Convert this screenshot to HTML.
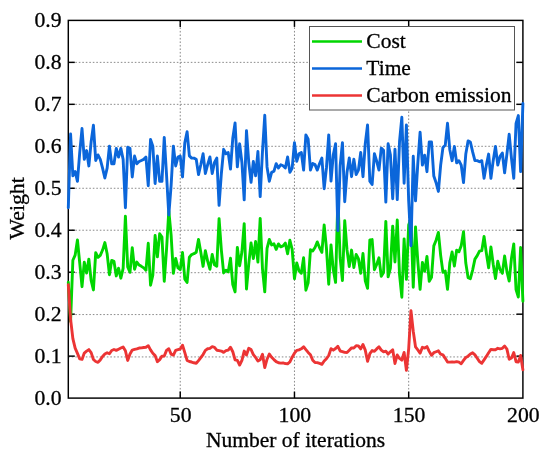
<!DOCTYPE html>
<html><head><meta charset="utf-8"><style>
html,body{margin:0;padding:0;background:#fff;}
body{width:550px;height:456px;overflow:hidden;}
svg{display:block;}
</style></head><body>
<svg width="550" height="456" viewBox="0 0 550 456">
<rect width="550" height="456" fill="#fff"/>
<g stroke="#8a8a8a" stroke-width="1" stroke-dasharray="1.6 1.9" fill="none"><line x1="68.30" y1="356.93" x2="522.90" y2="356.93"/><line x1="68.30" y1="314.57" x2="522.90" y2="314.57"/><line x1="68.30" y1="272.70" x2="522.90" y2="272.70"/><line x1="68.30" y1="230.23" x2="522.90" y2="230.23"/><line x1="68.30" y1="188.27" x2="522.90" y2="188.27"/><line x1="68.30" y1="146.30" x2="522.90" y2="146.30"/><line x1="68.30" y1="104.33" x2="522.90" y2="104.33"/><line x1="68.30" y1="62.37" x2="522.90" y2="62.37"/><line x1="180.24" y1="20.40" x2="180.24" y2="398.10"/><line x1="294.46" y1="20.40" x2="294.46" y2="398.10"/><line x1="408.68" y1="20.40" x2="408.68" y2="398.10"/></g>
<g stroke="#000" stroke-width="1.45" fill="none"><line x1="68.30" y1="356.13" x2="74.80" y2="356.13"/><line x1="522.90" y1="356.13" x2="516.40" y2="356.13"/><line x1="68.30" y1="314.17" x2="74.80" y2="314.17"/><line x1="522.90" y1="314.17" x2="516.40" y2="314.17"/><line x1="68.30" y1="272.20" x2="74.80" y2="272.20"/><line x1="522.90" y1="272.20" x2="516.40" y2="272.20"/><line x1="68.30" y1="230.23" x2="74.80" y2="230.23"/><line x1="522.90" y1="230.23" x2="516.40" y2="230.23"/><line x1="68.30" y1="188.27" x2="74.80" y2="188.27"/><line x1="522.90" y1="188.27" x2="516.40" y2="188.27"/><line x1="68.30" y1="146.30" x2="74.80" y2="146.30"/><line x1="522.90" y1="146.30" x2="516.40" y2="146.30"/><line x1="68.30" y1="104.33" x2="74.80" y2="104.33"/><line x1="522.90" y1="104.33" x2="516.40" y2="104.33"/><line x1="68.30" y1="62.37" x2="74.80" y2="62.37"/><line x1="522.90" y1="62.37" x2="516.40" y2="62.37"/><line x1="180.24" y1="398.10" x2="180.24" y2="391.60"/><line x1="180.24" y1="20.40" x2="180.24" y2="26.90"/><line x1="294.46" y1="398.10" x2="294.46" y2="391.60"/><line x1="294.46" y1="20.40" x2="294.46" y2="26.90"/><line x1="408.68" y1="398.10" x2="408.68" y2="391.60"/><line x1="408.68" y1="20.40" x2="408.68" y2="26.90"/>
<rect x="68.30" y="20.40" width="454.60" height="377.70"/></g>
<g fill="none" stroke-width="2.9" stroke-linejoin="round" stroke-linecap="round">
<path d="M68.30,282.29 L70.58,321.44 L72.87,260.22 L75.15,255.13 L77.44,239.95 L79.72,262.98 L82.01,286.68 L84.29,262.19 L86.58,272.97 L88.86,259.11 L91.14,280.29 L93.43,289.91 L95.71,252.70 L98.00,257.34 L100.28,255.40 L102.57,250.05 L104.85,242.59 L107.14,253.74 L109.42,274.71 L111.70,260.43 L113.99,261.42 L116.27,275.92 L118.56,268.26 L120.84,278.21 L123.13,268.36 L125.41,216.18 L127.69,266.93 L129.98,272.30 L132.26,247.65 L134.55,269.19 L136.83,262.04 L139.12,265.03 L141.40,266.34 L143.69,267.84 L145.97,270.29 L148.25,243.25 L150.54,285.19 L152.82,275.17 L155.11,235.49 L157.39,256.87 L159.68,233.71 L161.96,237.15 L164.25,281.29 L166.53,249.48 L168.81,210.93 L171.10,234.84 L173.38,273.38 L175.67,258.42 L177.95,267.93 L180.24,269.60 L182.52,252.54 L184.81,279.22 L187.09,282.47 L189.37,257.19 L191.66,254.51 L193.94,253.74 L196.23,252.19 L198.51,239.36 L200.80,252.37 L203.08,266.40 L205.37,250.77 L207.65,261.16 L209.93,269.23 L212.22,254.48 L214.50,264.83 L216.79,266.29 L219.07,218.61 L221.36,250.04 L223.64,272.94 L225.93,270.21 L228.21,271.96 L230.49,258.23 L232.78,284.60 L235.06,291.91 L237.35,247.33 L239.63,265.81 L241.92,251.83 L244.20,223.67 L246.48,289.03 L248.77,263.82 L251.05,242.85 L253.34,258.58 L255.62,241.50 L257.91,262.10 L260.19,218.38 L262.48,268.84 L264.76,291.82 L267.04,248.48 L269.33,239.46 L271.61,244.93 L273.90,243.73 L276.18,249.34 L278.47,243.89 L280.75,246.84 L283.04,245.90 L285.32,243.09 L287.60,253.77 L289.89,240.27 L292.17,249.47 L294.46,278.74 L296.74,262.90 L299.03,271.01 L301.31,273.33 L303.60,257.78 L305.88,290.18 L308.16,282.88 L310.45,249.80 L312.73,250.89 L315.02,247.46 L317.30,241.92 L319.59,247.74 L321.87,252.33 L324.16,224.95 L326.44,248.05 L328.72,284.21 L331.01,244.92 L333.29,269.77 L335.58,282.39 L337.86,197.68 L340.15,257.97 L342.43,280.49 L344.72,220.58 L347.00,249.89 L349.28,266.47 L351.57,250.07 L353.85,267.55 L356.14,254.41 L358.42,258.66 L360.71,273.22 L362.99,253.50 L365.27,280.83 L367.56,288.33 L369.84,239.84 L372.13,239.57 L374.41,269.69 L376.70,264.45 L378.98,257.82 L381.27,276.37 L383.55,272.56 L385.83,221.37 L388.12,276.84 L390.40,268.14 L392.69,226.08 L394.97,261.99 L397.26,220.05 L399.54,274.71 L401.83,297.20 L404.11,238.91 L406.39,279.40 L408.68,224.96 L410.96,218.27 L413.25,287.19 L415.53,226.84 L417.82,261.66 L420.10,289.38 L422.39,262.33 L424.67,271.32 L426.95,256.37 L429.24,281.31 L431.52,277.31 L433.81,245.87 L436.09,240.20 L438.38,232.36 L440.66,255.37 L442.95,272.26 L445.23,271.01 L447.51,289.29 L449.80,262.88 L452.08,252.00 L454.37,266.09 L456.65,250.18 L458.94,251.83 L461.22,245.83 L463.51,231.63 L465.79,263.08 L468.07,277.61 L470.36,278.66 L472.64,270.01 L474.93,259.08 L477.21,255.65 L479.50,251.20 L481.78,250.67 L484.06,236.51 L486.35,253.14 L488.63,267.84 L490.92,246.97 L493.20,264.20 L495.49,278.58 L497.77,261.27 L500.06,269.56 L502.34,273.36 L504.62,255.86 L506.91,271.37 L509.19,281.06 L511.48,258.14 L513.76,243.86 L516.05,289.65 L518.33,297.05 L520.62,247.55 L522.90,301.26" stroke="#00d600"/>
<path d="M68.30,207.72 L70.58,134.05 L72.87,175.83 L75.15,171.44 L77.44,181.33 L79.72,152.74 L82.01,128.55 L84.29,159.34 L86.58,150.55 L88.86,165.94 L91.14,141.75 L93.43,125.26 L95.71,160.44 L98.00,154.94 L100.28,159.34 L102.57,168.14 L104.85,178.03 L107.14,168.14 L109.42,146.15 L111.70,163.74 L113.99,163.74 L116.27,148.35 L118.56,157.14 L120.84,148.35 L123.13,159.34 L125.41,207.72 L127.69,147.25 L129.98,148.35 L132.26,176.93 L134.55,156.04 L136.83,163.74 L139.12,161.54 L141.40,160.44 L143.69,159.34 L145.97,157.14 L148.25,185.73 L150.54,139.55 L152.82,146.15 L155.11,183.53 L157.39,156.04 L159.68,181.33 L161.96,181.33 L164.25,137.35 L166.53,174.73 L168.81,214.98 L171.10,185.73 L173.38,146.15 L175.67,165.94 L177.95,157.14 L180.24,156.04 L182.52,176.93 L184.81,142.72 L187.09,131.73 L189.37,155.91 L191.66,158.11 L193.94,158.11 L196.23,159.21 L198.51,174.61 L200.80,164.71 L203.08,153.72 L205.37,173.51 L207.65,164.71 L209.93,157.01 L212.22,173.51 L214.50,162.51 L216.79,158.11 L219.07,205.39 L221.36,173.51 L223.64,149.32 L225.93,153.72 L228.21,152.62 L230.49,169.11 L232.78,138.32 L235.06,122.93 L237.35,166.91 L239.63,143.82 L241.92,162.51 L244.20,199.90 L246.48,130.63 L248.77,162.51 L251.05,182.30 L253.34,161.41 L255.62,175.71 L257.91,151.52 L260.19,196.60 L262.48,151.52 L264.76,115.23 L267.04,166.91 L269.33,181.20 L271.61,172.41 L273.90,171.31 L276.18,163.61 L278.47,168.01 L280.75,164.71 L283.04,165.81 L285.32,168.01 L287.60,157.01 L289.89,172.41 L292.17,168.01 L294.46,142.72 L296.74,161.41 L299.03,153.72 L301.31,152.49 L303.60,170.08 L305.88,134.90 L308.16,139.29 L310.45,170.08 L312.73,163.48 L315.02,164.58 L317.30,170.08 L319.59,163.48 L321.87,157.99 L324.16,188.69 L326.44,167.88 L328.72,134.90 L331.01,181.08 L333.29,154.69 L335.58,143.69 L337.86,230.65 L340.15,165.68 L342.43,142.59 L344.72,201.70 L347.00,172.28 L349.28,157.99 L351.57,176.68 L353.85,159.09 L356.14,174.48 L358.42,170.08 L360.71,152.49 L362.99,176.68 L365.27,143.69 L367.56,125.00 L369.84,181.08 L372.13,184.49 L374.41,153.59 L376.70,161.28 L378.98,170.08 L381.27,148.09 L383.55,150.29 L385.83,202.12 L388.12,143.69 L390.40,154.69 L392.69,198.76 L394.97,149.19 L397.26,199.60 L399.54,141.49 L401.83,117.30 L404.11,183.28 L406.39,125.00 L408.68,200.86 L410.96,245.76 L413.25,156.27 L415.53,200.86 L417.82,163.09 L420.10,132.08 L422.39,165.07 L424.67,155.17 L426.95,171.67 L429.24,141.98 L431.52,141.98 L433.81,176.06 L436.09,182.66 L438.38,191.46 L440.66,165.07 L442.95,147.48 L445.23,145.28 L447.51,123.29 L449.80,149.68 L452.08,160.67 L454.37,146.38 L456.65,162.87 L458.94,160.67 L461.22,165.07 L463.51,182.66 L465.79,154.07 L468.07,140.88 L470.36,141.98 L472.64,151.88 L474.93,160.67 L477.21,160.67 L479.50,161.77 L481.78,160.67 L484.06,178.26 L486.35,165.07 L488.63,154.07 L490.92,178.26 L493.20,160.67 L495.49,146.38 L497.77,165.07 L500.06,156.27 L502.34,152.97 L504.62,172.77 L506.91,154.07 L509.19,134.28 L511.48,158.47 L513.76,178.26 L516.05,123.29 L518.33,115.59 L520.62,171.67 L522.90,103.50" stroke="#0b66da"/>
<path d="M68.30,284.62 L70.58,319.14 L72.87,338.58 L75.15,348.07 L77.44,353.35 L79.72,358.91 L82.01,359.40 L84.29,353.10 L86.58,351.12 L88.86,349.59 L91.14,352.60 L93.43,359.47 L95.71,361.49 L98.00,362.35 L100.28,359.89 L102.57,356.45 L104.85,354.01 L107.14,352.76 L109.42,353.78 L111.70,350.46 L113.99,349.48 L116.27,350.37 L118.56,349.23 L120.84,348.08 L123.13,346.94 L125.41,350.73 L127.69,360.46 L129.98,353.99 L132.26,350.05 L134.55,349.40 L136.83,348.86 L139.12,348.06 L141.40,347.86 L143.69,347.45 L145.97,347.20 L148.25,345.66 L150.54,349.90 L152.82,353.32 L155.11,355.61 L157.39,361.72 L159.68,359.59 L161.96,356.15 L164.25,355.99 L166.53,350.42 L168.81,348.73 L171.10,354.06 L173.38,355.10 L175.67,350.27 L177.95,349.56 L180.24,349.00 L182.52,345.16 L184.81,352.69 L187.09,360.44 L189.37,361.53 L191.66,362.01 L193.94,362.77 L196.23,363.23 L198.51,360.66 L200.80,357.55 L203.08,354.52 L205.37,350.35 L207.65,348.76 L209.93,348.38 L212.22,346.65 L214.50,347.30 L216.79,350.23 L219.07,350.63 L221.36,351.09 L223.64,352.38 L225.93,350.70 L228.21,350.06 L230.49,347.29 L232.78,351.71 L235.06,359.79 L237.35,360.39 L239.63,365.00 L241.92,360.29 L244.20,351.07 L246.48,354.98 L248.77,348.30 L251.05,349.48 L253.34,354.65 L255.62,357.42 L257.91,361.01 L260.19,359.66 L262.48,354.27 L264.76,367.58 L267.04,359.24 L269.33,353.97 L271.61,357.30 L273.90,359.59 L276.18,361.69 L278.47,362.74 L280.75,363.08 L283.04,362.92 L285.32,363.54 L287.60,363.85 L289.89,361.96 L292.17,357.16 L294.46,353.17 L296.74,350.32 L299.03,349.91 L301.31,348.81 L303.60,346.77 L305.88,349.56 L308.16,352.46 L310.45,354.75 L312.73,360.26 L315.02,362.59 L317.30,362.63 L319.59,363.41 L321.87,364.32 L324.16,361.00 L326.44,358.70 L328.72,355.52 L331.01,348.64 L333.29,350.17 L335.58,348.55 L337.86,346.31 L340.15,350.98 L342.43,351.55 L344.72,352.36 L347.00,352.46 L349.28,350.17 L351.57,347.88 L353.85,348.00 L356.14,345.75 L358.42,345.90 L360.71,348.93 L362.99,344.45 L365.27,350.11 L367.56,361.31 L369.84,353.71 L372.13,350.57 L374.41,351.36 L376.70,348.90 L378.98,346.73 L381.27,350.17 L383.55,351.78 L385.83,351.15 L388.12,354.10 L390.40,351.81 L392.69,349.80 L394.97,363.45 L397.26,354.99 L399.54,358.43 L401.83,360.13 L404.11,352.45 L406.39,370.23 L408.68,348.81 L410.96,310.60 L413.25,331.17 L415.53,346.94 L417.82,349.89 L420.10,353.17 L422.39,347.23 L424.67,348.14 L426.95,346.59 L429.24,351.35 L431.52,355.35 L433.81,352.70 L436.09,351.77 L438.38,350.82 L440.66,354.20 L442.95,354.89 L445.23,358.35 L447.51,362.05 L449.80,362.08 L452.08,361.96 L454.37,362.17 L456.65,361.58 L458.94,362.13 L461.22,363.73 L463.51,360.34 L465.79,357.48 L468.07,356.14 L470.36,353.99 L472.64,352.75 L474.93,354.88 L477.21,358.31 L479.50,361.66 L481.78,363.30 L484.06,359.86 L486.35,356.42 L488.63,352.71 L490.92,349.40 L493.20,349.76 L495.49,349.68 L497.77,348.30 L500.06,348.80 L502.34,348.30 L504.62,346.01 L506.91,349.19 L509.19,359.29 L511.48,358.02 L513.76,352.51 L516.05,361.69 L518.33,361.99 L520.62,355.42 L522.90,369.88" stroke="#ec3434"/>
</g>
<g font-family='"Liberation Serif", "Times New Roman", serif' font-size="21.7" fill="#000" stroke="#000" stroke-width="0.3">
<text x="61.6" y="404.60" text-anchor="end">0.0</text><text x="61.6" y="362.63" text-anchor="end">0.1</text><text x="61.6" y="320.67" text-anchor="end">0.2</text><text x="61.6" y="278.70" text-anchor="end">0.3</text><text x="61.6" y="236.73" text-anchor="end">0.4</text><text x="61.6" y="194.77" text-anchor="end">0.5</text><text x="61.6" y="152.80" text-anchor="end">0.6</text><text x="61.6" y="110.83" text-anchor="end">0.7</text><text x="61.6" y="68.87" text-anchor="end">0.8</text><text x="61.6" y="26.90" text-anchor="end">0.9</text>
<text x="180.64" y="422.0" text-anchor="middle">50</text><text x="294.86" y="422.0" text-anchor="middle">100</text><text x="409.08" y="422.0" text-anchor="middle">150</text><text x="523.30" y="422.0" text-anchor="middle">200</text>
<text x="295.6" y="446.8" text-anchor="middle" font-size="21.5">Number of iterations</text>
<text transform="translate(23.8,208.4) rotate(-90)" text-anchor="middle" font-size="21.8">Weight</text>
</g>
<g>
<rect x="309.5" y="26.5" width="205" height="83.5" fill="#fff" stroke="#555" stroke-width="1"/>
<line x1="312" y1="41.5" x2="362" y2="41.5" stroke="#00d600" stroke-width="2.5"/>
<line x1="312" y1="68.5" x2="362" y2="68.5" stroke="#0b66da" stroke-width="2.5"/>
<line x1="312" y1="95.5" x2="362" y2="95.5" stroke="#ec3434" stroke-width="2.5"/>
<g font-family='"Liberation Serif", "Times New Roman", serif' font-size="21.5" fill="#000" stroke="#000" stroke-width="0.3">
<text x="366.3" y="48.3">Cost</text>
<text x="366.3" y="75.2">Time</text>
<text x="366.3" y="102.2">Carbon emission</text>
</g>
</g>
</svg>
</body></html>
